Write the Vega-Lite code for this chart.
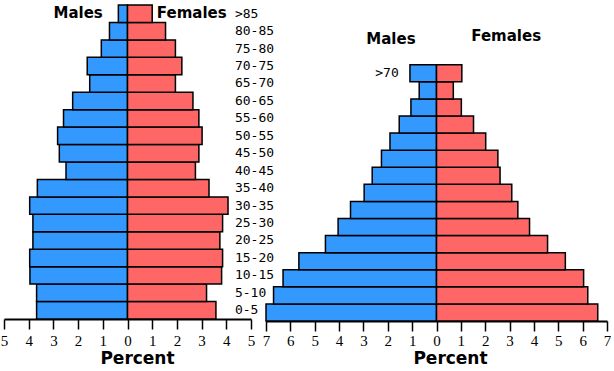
{
  "$schema": "https://vega.github.io/schema/vega-lite/v6.json",
  "padding": {"left": 0, "top": 4, "right": 0, "bottom": 0},
  "background": "white",
  "bounds": "flush",
  "spacing": 15,
  "config": {
    "view": {"stroke": null},
    "axis": {
      "grid": false,
      "domainColor": "black",
      "domainWidth": 2,
      "tickColor": "black",
      "tickWidth": 1.5,
      "tickSize": 10,
      "labelFont": "Liberation Sans Narrow",
      "labelFontSize": 15,
      "labelColor": "black",
      "titleFont": "DejaVu Sans",
      "titleFontWeight": "bold",
      "titleFontSize": 17,
      "titleColor": "black"
    }
  },
  "datasets": {
    "young": [
      {"age": "0-5", "lo": 0, "hi": 5, "sex": "Males", "pct": -3.68},
      {"age": "0-5", "lo": 0, "hi": 5, "sex": "Females", "pct": 3.58},
      {"age": "5-10", "lo": 5, "hi": 10, "sex": "Males", "pct": -3.68},
      {"age": "5-10", "lo": 5, "hi": 10, "sex": "Females", "pct": 3.2},
      {"age": "10-15", "lo": 10, "hi": 15, "sex": "Males", "pct": -3.95},
      {"age": "10-15", "lo": 10, "hi": 15, "sex": "Females", "pct": 3.81},
      {"age": "15-20", "lo": 15, "hi": 20, "sex": "Males", "pct": -3.96},
      {"age": "15-20", "lo": 15, "hi": 20, "sex": "Females", "pct": 3.85},
      {"age": "20-25", "lo": 20, "hi": 25, "sex": "Males", "pct": -3.83},
      {"age": "20-25", "lo": 20, "hi": 25, "sex": "Females", "pct": 3.74},
      {"age": "25-30", "lo": 25, "hi": 30, "sex": "Males", "pct": -3.83},
      {"age": "25-30", "lo": 25, "hi": 30, "sex": "Females", "pct": 3.85},
      {"age": "30-35", "lo": 30, "hi": 35, "sex": "Males", "pct": -3.96},
      {"age": "30-35", "lo": 30, "hi": 35, "sex": "Females", "pct": 4.07},
      {"age": "35-40", "lo": 35, "hi": 40, "sex": "Males", "pct": -3.65},
      {"age": "35-40", "lo": 35, "hi": 40, "sex": "Females", "pct": 3.3},
      {"age": "40-45", "lo": 40, "hi": 45, "sex": "Males", "pct": -2.49},
      {"age": "40-45", "lo": 40, "hi": 45, "sex": "Females", "pct": 2.75},
      {"age": "45-50", "lo": 45, "hi": 50, "sex": "Males", "pct": -2.76},
      {"age": "45-50", "lo": 45, "hi": 50, "sex": "Females", "pct": 2.89},
      {"age": "50-55", "lo": 50, "hi": 55, "sex": "Males", "pct": -2.83},
      {"age": "50-55", "lo": 50, "hi": 55, "sex": "Females", "pct": 3.02},
      {"age": "55-60", "lo": 55, "hi": 60, "sex": "Males", "pct": -2.59},
      {"age": "55-60", "lo": 55, "hi": 60, "sex": "Females", "pct": 2.89},
      {"age": "60-65", "lo": 60, "hi": 65, "sex": "Males", "pct": -2.22},
      {"age": "60-65", "lo": 60, "hi": 65, "sex": "Females", "pct": 2.65},
      {"age": "65-70", "lo": 65, "hi": 70, "sex": "Males", "pct": -1.53},
      {"age": "65-70", "lo": 65, "hi": 70, "sex": "Females", "pct": 1.94},
      {"age": "70-75", "lo": 70, "hi": 75, "sex": "Males", "pct": -1.63},
      {"age": "70-75", "lo": 70, "hi": 75, "sex": "Females", "pct": 2.2},
      {"age": "75-80", "lo": 75, "hi": 80, "sex": "Males", "pct": -1.06},
      {"age": "75-80", "lo": 75, "hi": 80, "sex": "Females", "pct": 1.94},
      {"age": "80-85", "lo": 80, "hi": 85, "sex": "Males", "pct": -0.73},
      {"age": "80-85", "lo": 80, "hi": 85, "sex": "Females", "pct": 1.54},
      {"age": ">85", "lo": 85, "hi": 90, "sex": "Males", "pct": -0.37},
      {"age": ">85", "lo": 85, "hi": 90, "sex": "Females", "pct": 1.0}
    ],
    "old": [
      {"age": "0-5", "lo": 0, "hi": 5, "sex": "Males", "pct": -7.0},
      {"age": "0-5", "lo": 0, "hi": 5, "sex": "Females", "pct": 6.62},
      {"age": "5-10", "lo": 5, "hi": 10, "sex": "Males", "pct": -6.69},
      {"age": "5-10", "lo": 5, "hi": 10, "sex": "Females", "pct": 6.21},
      {"age": "10-15", "lo": 10, "hi": 15, "sex": "Males", "pct": -6.3},
      {"age": "10-15", "lo": 10, "hi": 15, "sex": "Females", "pct": 6.04},
      {"age": "15-20", "lo": 15, "hi": 20, "sex": "Males", "pct": -5.65},
      {"age": "15-20", "lo": 15, "hi": 20, "sex": "Females", "pct": 5.29},
      {"age": "20-25", "lo": 20, "hi": 25, "sex": "Males", "pct": -4.56},
      {"age": "20-25", "lo": 20, "hi": 25, "sex": "Females", "pct": 4.56},
      {"age": "25-30", "lo": 25, "hi": 30, "sex": "Males", "pct": -4.04},
      {"age": "25-30", "lo": 25, "hi": 30, "sex": "Females", "pct": 3.82},
      {"age": "30-35", "lo": 30, "hi": 35, "sex": "Males", "pct": -3.53},
      {"age": "30-35", "lo": 30, "hi": 35, "sex": "Females", "pct": 3.34},
      {"age": "35-40", "lo": 35, "hi": 40, "sex": "Males", "pct": -2.97},
      {"age": "35-40", "lo": 35, "hi": 40, "sex": "Females", "pct": 3.09},
      {"age": "40-45", "lo": 40, "hi": 45, "sex": "Males", "pct": -2.64},
      {"age": "40-45", "lo": 40, "hi": 45, "sex": "Females", "pct": 2.61},
      {"age": "45-50", "lo": 45, "hi": 50, "sex": "Males", "pct": -2.26},
      {"age": "45-50", "lo": 45, "hi": 50, "sex": "Females", "pct": 2.52},
      {"age": "50-55", "lo": 50, "hi": 55, "sex": "Males", "pct": -1.91},
      {"age": "50-55", "lo": 50, "hi": 55, "sex": "Females", "pct": 2.02},
      {"age": "55-60", "lo": 55, "hi": 60, "sex": "Males", "pct": -1.53},
      {"age": "55-60", "lo": 55, "hi": 60, "sex": "Females", "pct": 1.52},
      {"age": "60-65", "lo": 60, "hi": 65, "sex": "Males", "pct": -1.05},
      {"age": "60-65", "lo": 60, "hi": 65, "sex": "Females", "pct": 1.02},
      {"age": "65-70", "lo": 65, "hi": 70, "sex": "Males", "pct": -0.71},
      {"age": "65-70", "lo": 65, "hi": 70, "sex": "Females", "pct": 0.69},
      {"age": ">70", "lo": 70, "hi": 75, "sex": "Males", "pct": -1.09},
      {"age": ">70", "lo": 70, "hi": 75, "sex": "Females", "pct": 1.04}
    ]
  },
  "hconcat": [
    {
      "width": 247,
      "height": 314,
      "data": {"name": "young"},
      "layer": [
        {
          "mark": {"type": "rect", "stroke": "black", "strokeWidth": 1.5},
          "encoding": {
            "x": {"field": "pct", "type": "quantitative",
                  "scale": {"domain": [-5, 5], "nice": false},
                  "axis": {"title": "Percent", "tickCount": 10, "format": "d",
                           "labelOverlap": false, "labelFlush": false, "labelBound": false,
                           "labelExpr": "replace(datum.label, /[-\u2212]/, '')", "labelPadding": 4, "titlePadding": 2, "titleX": 133}},
            "x2": {"datum": 0},
            "y": {"field": "lo", "type": "quantitative", "scale": {"domain": [0, 90], "nice": false}, "axis": null},
            "y2": {"field": "hi"},
            "color": {"field": "sex", "type": "nominal",
                      "scale": {"domain": ["Males", "Females"], "range": ["#3399ff", "#ff6666"]},
                      "legend": null}
          }
        },
        {
          "transform": [{"filter": "datum.sex == 'Females'"}],
          "mark": {"type": "text", "align": "left", "baseline": "middle", "dy": 8.7,
                   "font": "DejaVu Sans Mono", "fontSize": 13, "color": "black"},
          "encoding": {
            "x": {"datum": 4.35},
            "y": {"field": "hi", "type": "quantitative"},
            "text": {"field": "age"}
          }
        },
        {
          "data": {"values": [{"label": "Males"}]},
          "mark": {"type": "text", "align": "center", "baseline": "middle",
                   "font": "DejaVu Sans", "fontWeight": "bold", "fontSize": 15, "color": "black"},
          "encoding": {"x": {"datum": -2.0}, "y": {"datum": 87.8}, "text": {"field": "label"}}
        },
        {
          "data": {"values": [{"label": "Females"}]},
          "mark": {"type": "text", "align": "center", "baseline": "middle",
                   "font": "DejaVu Sans", "fontWeight": "bold", "fontSize": 15, "color": "black"},
          "encoding": {"x": {"datum": 2.6}, "y": {"datum": 87.8}, "text": {"field": "label"}}
        }
      ]
    },
    {
      "width": 341,
      "height": 316,
      "data": {"name": "old"},
      "layer": [
        {
          "mark": {"type": "rect", "stroke": "black", "strokeWidth": 1.5},
          "encoding": {
            "x": {"field": "pct", "type": "quantitative",
                  "scale": {"domain": [-7, 7], "nice": false},
                  "axis": {"title": "Percent", "tickCount": 14, "format": "d",
                           "labelOverlap": false, "labelFlush": false, "labelBound": false,
                           "labelExpr": "replace(datum.label, /[-\u2212]/, '')", "labelPadding": 2, "titlePadding": 2, "titleX": 184}},
            "x2": {"datum": 0},
            "y": {"field": "lo", "type": "quantitative", "scale": {"domain": [0, 92.5], "nice": false}, "axis": null},
            "y2": {"field": "hi"},
            "color": {"field": "sex", "type": "nominal",
                      "scale": {"domain": ["Males", "Females"], "range": ["#3399ff", "#ff6666"]},
                      "legend": null}
          }
        },
        {
          "transform": [{"filter": "datum.sex == 'Males' && datum.age == '>70'"}],
          "mark": {"type": "text", "align": "right", "baseline": "middle", "dy": 8.5,
                   "font": "DejaVu Sans Mono", "fontSize": 13, "color": "black"},
          "encoding": {
            "x": {"datum": -1.55},
            "y": {"field": "hi", "type": "quantitative"},
            "text": {"field": "age"}
          }
        },
        {
          "data": {"values": [{"label": "Males"}]},
          "mark": {"type": "text", "align": "center", "baseline": "middle",
                   "font": "DejaVu Sans", "fontWeight": "bold", "fontSize": 15, "color": "black"},
          "encoding": {"x": {"datum": -1.87}, "y": {"datum": 82.6}, "text": {"field": "label"}}
        },
        {
          "data": {"values": [{"label": "Females"}]},
          "mark": {"type": "text", "align": "center", "baseline": "middle",
                   "font": "DejaVu Sans", "fontWeight": "bold", "fontSize": 15, "color": "black"},
          "encoding": {"x": {"datum": 2.86}, "y": {"datum": 83.5}, "text": {"field": "label"}}
        }
      ]
    }
  ]
}
